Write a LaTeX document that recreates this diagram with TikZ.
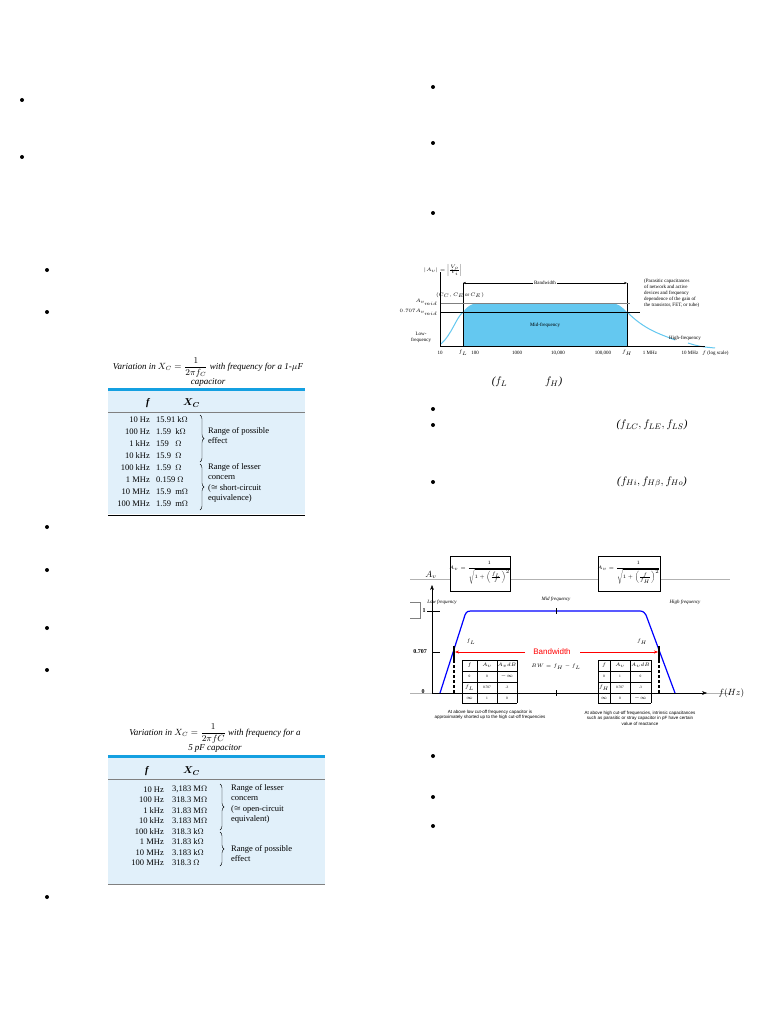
\documentclass[tikz,border=0pt]{standalone}
\usepackage{amsmath}
\usepackage{fontspec}
\setmainfont{Liberation Serif}
\newfontfamily\sansf{Liberation Sans}
\usetikzlibrary{arrows.meta,decorations.pathreplacing}
\definecolor{tblbg}{RGB}{225,240,250}
\definecolor{tblbar}{RGB}{20,160,225}
\definecolor{mid}{RGB}{100,200,240}
\tikzset{
 bul/.style={circle,fill=black,inner sep=0pt,minimum size=4pt},
 cell/.style={font=\fontsize{8.5}{10.5}\selectfont,anchor=west,inner sep=0pt},
 tiny/.style={font=\fontsize{5}{6}\selectfont,inner sep=0pt},
 sm/.style={font=\fontsize{4.5}{5}\selectfont,inner sep=0pt},
}
\begin{document}
\begin{tikzpicture}[x=1pt,y=-1pt]
\useasboundingbox (0,0) rectangle (768,1024);
\fill[white] (0,0) rectangle (768,1024);
% bullets
\foreach \p [count=\i] in {(22,100),(22,157),(47,270),(47,312),(47,527),(47,570),(47,628),(47,670),(47,897),(433,87),(433,143),(433,213),(433,409),(433,425),(433,482),(433,756),(433,797),(433,826)}
  \node[bul] (b\i) at \p {};
% ---------- table 1
\node[font=\fontsize{9}{10}\selectfont\itshape,align=center] (t1) at (208,372) {Variation in $X_C=\dfrac{1}{2\pi f_C}$ with frequency for a 1-$\mu$F\\capacitor};
\fill[tblbg] (108,390) rectangle (305,514);
\draw[tblbar,line width=3pt] (108,389) -- (305,389);
\node[cell,font=\fontsize{10}{10}\selectfont\bfseries\itshape] (h1) at (146,403) {f};
\node[cell,font=\fontsize{10}{10}\selectfont\bfseries] (h2) at (183,403) {$\boldsymbol{X_C}$};
\draw[gray,line width=0.8pt] (108,412) -- (305,412);
\foreach \f/\x [count=\i] in {10 Hz/{15.91 k$\Omega$},100 Hz/{1.59\ \ k$\Omega$},1 kHz/{159\ \ \ $\Omega$},10 kHz/{15.9\ \ $\Omega$},100 kHz/{1.59\ \ $\Omega$},1 MHz/{0.159 $\Omega$},10 MHz/{15.9\ \ m$\Omega$},100 MHz/{1.59\ \ m$\Omega$}}{
  \node[cell,anchor=east] (fa\i) at (150,408+12*\i) {\f};
  \node[cell] (xa\i) at (156,408+12*\i) {\x};}
\draw[decorate,decoration={brace,amplitude=4pt}] (200,415) -- (200,462);
\node[cell,align=left,anchor=north west] (r1) at (208,427) {Range of possible\\effect};
\draw[decorate,decoration={brace,amplitude=4pt}] (200,464) -- (200,510);
\node[cell,align=left,anchor=north west] (r2) at (208,463) {Range of lesser\\concern\\($\cong$ short-circuit\\equivalence)};
\draw[black,line width=0.8pt] (108,515) -- (305,515);
% ---------- table 2
\node[font=\fontsize{9}{10}\selectfont\itshape,align=center] (t2) at (215,738) {Variation in $X_C=\dfrac{1}{2\pi f C}$ with frequency for a\\5 pF capacitor};
\fill[tblbg] (108,757) rectangle (325,884);
\draw[tblbar,line width=3pt] (108,756) -- (325,756);
\node[cell,font=\fontsize{10}{10}\selectfont\bfseries\itshape] (h3) at (145,771) {f};
\node[cell,font=\fontsize{10}{10}\selectfont\bfseries] (h4) at (183,771) {$\boldsymbol{X_C}$};
\draw[gray,line width=0.8pt] (108,779) -- (325,779);
\foreach \f/\x [count=\i] in {10 Hz/{3,183 M$\Omega$},100 Hz/{318.3 M$\Omega$},1 kHz/{31.83 M$\Omega$},10 kHz/{3.183 M$\Omega$},100 kHz/{318.3 k$\Omega$},1 MHz/{31.83 k$\Omega$},10 MHz/{3.183 k$\Omega$},100 MHz/{318.3 $\Omega$}}{
  \node[cell,anchor=east] (fb\i) at (164,779+10.5*\i) {\f};
  \node[cell] (xb\i) at (172,779+10.5*\i) {\x};}
\draw[decorate,decoration={brace,amplitude=4pt}] (220,784) -- (220,830);
\node[cell,align=left,anchor=north west] (r3) at (231,784) {Range of lesser\\concern\\($\cong$ open-circuit\\equivalent)};
\draw[decorate,decoration={brace,amplitude=4pt}] (220,832) -- (220,866);
\node[cell,align=left,anchor=north west] (r4) at (231,845) {Range of possible\\effect};
\draw[gray,line width=0.8pt] (108,884) -- (325,884);
% ---------- graph 1
\fill[mid] (463,346) -- (463,312) .. controls (470,303) and (475,303) .. (485,303) -- (610,303) .. controls (618,303) and (622,307) .. (627,312) -- (627,346) -- cycle;
\draw[black] (463,346) -- (463,283) (627,346) -- (627,283);
\draw[mid,line width=1pt] (441,344) .. controls (452,334) and (456,318) .. (463,312);
\draw[mid,line width=1pt] (627,312) .. controls (645,330) and (660,334) .. (675,340);
\draw[mid,line width=1pt] (688,343) .. controls (700,347) and (705,347) .. (715,348);
\draw[gray] (440,303) -- (630,303);
\draw[black,thin] (440,312) -- (640,312);
\draw[black] (440,272) -- (440,346) -- (705,346);
\draw[{Stealth[length=3pt]}-{Stealth[length=3pt]}] (463,283) -- node[tiny,fill=white,inner sep=1pt] (bw1) {Bandwidth} (627,283);
\node[tiny,anchor=east] (ay) at (462,270) {$|A_v|=\left|\frac{V_o}{V_i}\right|$};
\node[tiny] (cc) at (460,295) {$(C_C, C_E$ or $C_E)$};
\node[tiny,anchor=east] (am) at (438,302) {$A_{v_{mid}}$};
\node[tiny,anchor=east] (a7) at (438,312) {$0.707A_{v_{mid}}$};
\node[tiny,align=center] (lf) at (421,337) {Low-\\frequency};
\node[tiny] (mf) at (545,325) {Mid-frequency};
\node[tiny] (hf) at (685,338) {High-frequency};
\node[tiny,align=left,anchor=north west] (par) at (644,279) {(Parasitic capacitances\\of network and active\\devices and frequency\\dependence of the gain of\\the transistor, FET, or tube)};
\foreach \x/\t in {440/10,463/$f_L$,475/100,517/1000,558/{10,000},603/{100,000},627/$f_H$,650/1 MHz,690/10 MHz}
  \node[tiny] at (\x,353) {\t};
\node[tiny,anchor=west] (fl) at (702,353) {$f$ (log scale)};
\node[font=\fontsize{11}{12}\selectfont\itshape] (flh) at (527,382) {($f_L$\hspace{38pt}$f_H$)};
\node[font=\fontsize{11}{12}\selectfont\itshape] (flc) at (652,425) {($f_{LC}, f_{LE}, f_{LS}$)};
\node[font=\fontsize{11}{12}\selectfont\itshape] (fhi) at (652,482) {($f_{Hi}, f_{H\beta}, f_{Ho}$)};
% ---------- graph 2
\draw[gray!60] (410,579) -- (730,579);
\draw[gray!60] (410,693) -- (730,693);
\draw[-{Stealth[length=5pt]}] (432,693) -- (432,585);
\draw[-{Stealth[length=5pt]}] (432,693) -- (707,693);
\node[font=\fontsize{9}{10}\selectfont\itshape] (av) at (431,575) {$A_v$};
\node[font=\fontsize{9}{10}\selectfont\itshape,anchor=west] (fhz) at (715,693) {$f(Hz)$};
\draw[fill=white] (450,556) rectangle (510,591);
\node[tiny] at (480,573) {$A_v=\dfrac{1}{\sqrt{1+\left(\frac{f_L}{f}\right)^2}}$};
\draw[fill=white] (598,556) rectangle (660,591);
\node[tiny] at (629,573) {$A_v=\dfrac{1}{\sqrt{1+\left(\frac{f}{f_H}\right)^2}}$};
\draw[gray] (410,602) -- (420,602) -- (420,618) -- (410,618);
\node[sm,font=\fontsize{6}{6}\selectfont\bfseries] (one) at (424,611) {1};
\draw (427,611) -- (440,611);
\node[sm,font=\fontsize{6}{6}\selectfont\bfseries] (p707) at (420,652) {0.707};
\draw (433,652) -- (440,652);
\node[sm,font=\fontsize{6}{6}\selectfont\bfseries] (zero) at (423,692) {0};
\draw[blue,line width=1.2pt] (440,693) -- (465,615) .. controls (467,611) .. (475,611) -- (637,611) .. controls (643,611) .. (646,615) -- (675,693);
\draw (556,608) -- (556,614) (556,690) -- (556,696);
\node[sm,font=\fontsize{5}{6}\selectfont\itshape] (lfq) at (442,602) {Low frequency};
\node[sm,font=\fontsize{5}{6}\selectfont\itshape] (mfq) at (556,599) {Mid frequency};
\node[sm,font=\fontsize{5}{6}\selectfont\itshape] (hfq) at (685,602) {High frequency};
\draw[line width=1.5pt] (454,646) -- (454,660);
\draw[line width=1.5pt,densely dashed] (454,660) -- (454,693);
\draw[line width=1.5pt] (659,646) -- (659,660);
\draw[line width=1.5pt,densely dashed] (659,660) -- (659,693);
\node[sm] at (471,642) {$f_L$};
\node[sm] at (642,642) {$f_H$};
\draw[red,-{Stealth[length=4pt]}] (525,652) -- (455,652);
\draw[red,-{Stealth[length=4pt]}] (580,652) -- (658,652);
\node[font=\fontsize{8}{8}\selectfont\sansf,text=red] (bw2) at (552,652) {Bandwidth};
\node[sm,font=\fontsize{5}{6}\selectfont\itshape] (bweq) at (556,667) {$BW=f_H-f_L$};
% small tables
\fill[white] (462,660) rectangle (517,703);
\foreach \y in {660,671,682,693,703} \draw (462,\y) -- (517,\y);
\foreach \x in {462,477,497,517} \draw (\x,660) -- (\x,703);
\foreach \a/\b/\c [count=\i] in {$f$/$A_v$/$A_v dB$,0/0/$-\infty$,$f_L$/0.707/-3,$\infty$/1/0}{
 \node[sm,font=\fontsize{3.5}{4}\selectfont] at (469.5,654.5+11*\i) {\a};
 \node[sm,font=\fontsize{3.5}{4}\selectfont] at (487,654.5+11*\i) {\b};
 \node[sm,font=\fontsize{3.5}{4}\selectfont] at (507,654.5+11*\i) {\c};}
\fill[white] (598,660) rectangle (651,703);
\foreach \y in {660,671,682,693,703} \draw (598,\y) -- (651,\y);
\foreach \x in {598,610,630,651} \draw (\x,660) -- (\x,703);
\foreach \a/\b/\c [count=\i] in {$f$/$A_v$/$A_v dB$,0/1/0,$f_H$/0.707/-3,$\infty$/0/$-\infty$}{
 \node[sm,font=\fontsize{3.5}{4}\selectfont] at (604,654.5+11*\i) {\a};
 \node[sm,font=\fontsize{3.5}{4}\selectfont] at (620,654.5+11*\i) {\b};
 \node[sm,font=\fontsize{3.5}{4}\selectfont] at (640.5,654.5+11*\i) {\c};}
\node[sm,font=\fontsize{4.5}{5.5}\selectfont\sansf,align=center] (cap1) at (490,715) {At above low cut-off frequency capacitor is\\approximately shorted up to the high cut-off frequencies};
\node[sm,font=\fontsize{4.5}{5.5}\selectfont\sansf,align=center] (cap2) at (640,718) {At above high cut-off frequencies, intrinsic capacitances\\such as parasitic or stray capacitor in pF have certain\\value of reactance};
\end{tikzpicture}
\end{document}
